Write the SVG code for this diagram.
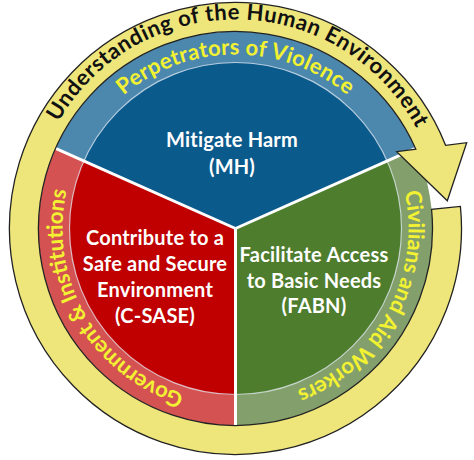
<svg xmlns="http://www.w3.org/2000/svg" width="474" height="460" viewBox="0 0 474 460">
  <defs>
    <style>
      .lbl { font-family: Lato, "Open Sans", "Liberation Sans", sans-serif; font-weight: bold; }
      .center { fill: #ffffff; font-size: 20px; letter-spacing: 0.2px; text-anchor: middle; }
      .band { fill: #f2f232; font-size: 22px; }
      .ringtxt { fill: #111111; font-size: 22px; }
      .divider { stroke: #ffffff; stroke-width: 3; fill: none; }
    </style>
    <path id="arcTop" d="M43.18,154.68 A204.5,204.5 0 0 1 430.28,161.43"/>
    <path id="arcPerp" d="M72.0,169.0 A174,174 0 0 1 399.0,169.0"/>
    <path id="arcGov" d="M265.54,398.87 A173,173 0 0 1 102.97,117.3"/>
    <path id="arcCiv" d="M365.07,113.87 A173,173 0 0 1 209.93,399.6"/>
  </defs>
  <rect x="0" y="0" width="474" height="460" fill="#ffffff"/>

  <g id="band-perpetrators">
    <path d="M235.5,228.5 L55.53,148.37 A197,197 0 0 1 415.47,148.37 Z" fill="#4c87ad"/>
  </g>
  <g id="band-civilians">
    <path d="M235.5,228.5 L415.47,148.37 A197,197 0 0 1 235.5,425.5 Z" fill="#83a06c"/>
  </g>
  <g id="band-government">
    <path d="M235.5,228.5 L235.5,425.5 A197,197 0 0 1 55.53,148.37 Z" fill="#d45252"/>
  </g>

  <g id="node-mh">
    <path d="M235.5,228.5 L83.85,160.98 A166,166 0 0 1 387.15,160.98 Z" fill="#0b5a8c"/>
    <text class="lbl center" x="232" y="147">Mitigate Harm</text>
    <text class="lbl center" x="232" y="174">(MH)</text>
  </g>
  <g id="node-fabn">
    <path d="M235.5,228.5 L387.15,160.98 A166,166 0 0 1 235.5,394.5 Z" fill="#4e7d2e"/>
    <text class="lbl center" x="314" y="262">Facilitate Access</text>
    <text class="lbl center" x="314" y="288">to Basic Needs</text>
    <text class="lbl center" x="314" y="313">(FABN)</text>
  </g>
  <g id="node-csase">
    <path d="M235.5,228.5 L235.5,394.5 A166,166 0 0 1 83.85,160.98 Z" fill="#c00000"/>
    <text class="lbl center" x="155" y="245">Contribute to a</text>
    <text class="lbl center" x="155" y="271">Safe and Secure</text>
    <text class="lbl center" x="155" y="297">Environment</text>
    <text class="lbl center" x="155" y="323">(C-SASE)</text>
  </g>

  <circle cx="235.5" cy="228.5" r="166" fill="none" stroke="#e6eef5" stroke-opacity="0.75" stroke-width="1.2"/>

  <g id="connectors">
    <line class="divider" x1="235.5" y1="228.5" x2="55.53" y2="148.37"/>
    <line class="divider" x1="235.5" y1="228.5" x2="415.47" y2="148.37"/>
    <line class="divider" x1="235.5" y1="228.5" x2="235.5" y2="425.5"/>
  </g>

  <g id="band-labels">
    <text class="lbl band"><textPath href="#arcPerp" startOffset="50%" text-anchor="middle" textLength="243" lengthAdjust="spacing">Perpetrators of Violence</textPath></text>
    <text class="lbl band"><textPath href="#arcGov" startOffset="50%" text-anchor="middle" textLength="258" lengthAdjust="spacing">Government &amp; Institutions</textPath></text>
    <text class="lbl band"><textPath href="#arcCiv" startOffset="50%" text-anchor="middle" textLength="246" lengthAdjust="spacing">Civilians and Aid Workers</textPath></text>
  </g>

  <g id="ring-arrow">
    <path d="M460.42,206.45 A226,226 0 1 1 445.67,145.4 L466.7,142.7 L447.3,200.7 L396.7,151.7 L415.85,149.24 A197,197 0 1 0 431.56,209.28 Z" fill="#eee67a" stroke="#222222" stroke-width="1.3" stroke-linejoin="miter"/>
    <text class="lbl ringtxt"><textPath href="#arcTop" startOffset="50%" text-anchor="middle" textLength="436" lengthAdjust="spacing">Understanding of the Human Environment</textPath></text>
  </g>
</svg>
